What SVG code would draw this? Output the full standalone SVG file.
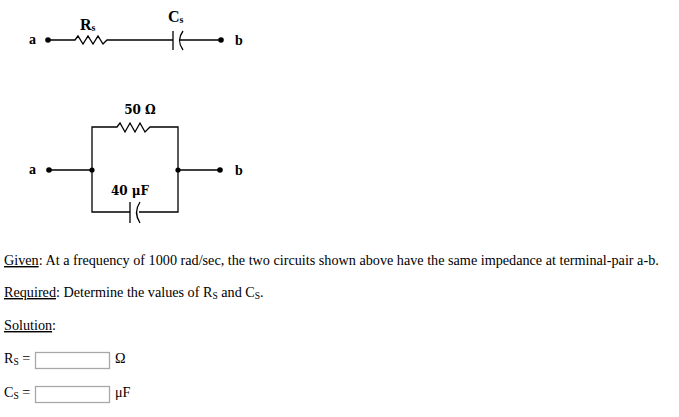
<svg xmlns="http://www.w3.org/2000/svg" width="679" height="417" viewBox="0 0 679 417">
<style>
.w{fill:none;stroke:#000;stroke-width:1.3;stroke-linejoin:miter}
.lbl{font-family:"Liberation Serif",serif;font-weight:bold;fill:#000}
.val{font-family:"DejaVu Serif",serif;font-weight:bold;font-size:12px;fill:#000}
.t{font-family:"Liberation Serif",serif;font-size:14.2px;fill:#000}
.u{text-decoration:underline}
.box{fill:#fff;stroke:#a8a8a8;stroke-width:1.3}
</style>
<rect width="679" height="417" fill="#fff"/>
<g id="connectors">
<path class="w" d="M48,40 H75 L78,36 L83,44 L88,36 L93,44 L98,36 L103,44 L107,40 H173"/>
<path class="w" d="M173,31 V50"/>
<path class="w" d="M183,31 Q176,40.5 183,50"/>
<path class="w" d="M179,40 H221"/>
<path class="w" d="M49,170 H92 M178,170 H220"/>
<path class="w" d="M92,170 V127 H117 L120,123 L125,132 L130,123 L135,132 L140,123 L145,132 L150,127 H178 V212 H139 M130,212 H92 V170"/>
<path class="w" d="M130,202 V223"/>
<path class="w" d="M140,202 Q133,212.5 140,223"/>
</g>
<g id="top-circuit">
<circle cx="48" cy="40" r="2.8"/>
<circle cx="221" cy="40" r="2.8"/>
<text class="lbl" x="29" y="44" font-size="14">a</text>
<text class="lbl" x="235" y="45" font-size="14">b</text>
<text class="lbl" x="80" y="30" font-size="16">R<tspan font-size="10" dy="1">s</tspan></text>
<text class="lbl" x="168" y="22" font-size="16">C<tspan font-size="10" dy="1">s</tspan></text>
</g>
<g id="bottom-circuit">
<circle cx="49" cy="170" r="2.8"/>
<circle cx="92" cy="170" r="2.6"/>
<circle cx="178" cy="170" r="2.6"/>
<circle cx="220" cy="170" r="2.8"/>
<text class="lbl" x="29" y="174" font-size="14">a</text>
<text class="lbl" x="235" y="175" font-size="14">b</text>
<text class="val" x="140" y="114" text-anchor="middle">50 Ω</text>
<text class="val" x="130" y="195" text-anchor="middle">40 μF</text>
</g>
<g id="text">
<text class="t" x="4" y="265"><tspan class="u">Given</tspan>: At a frequency of 1000 rad/sec, the two circuits shown above have the same impedance at terminal-pair a-b.</text>
<text class="t" x="4" y="297"><tspan class="u">Required</tspan>: Determine the values of R<tspan font-size="9.5" dy="2">S</tspan><tspan dy="-2"> and C</tspan><tspan font-size="9.5" dy="2">S</tspan><tspan dy="-2">.</tspan></text>
<text class="t" x="4" y="330"><tspan class="u">Solution</tspan>:</text>
<text class="t" x="4" y="363">R<tspan font-size="9.5" dy="2">S</tspan><tspan dy="-2"> =</tspan></text>
<rect class="box" x="35.5" y="352.5" width="74" height="16"/>
<text class="t" x="115" y="363">Ω</text>
<text class="t" x="4" y="397">C<tspan font-size="9.5" dy="2">S</tspan><tspan dy="-2"> =</tspan></text>
<rect class="box" x="35.5" y="386.5" width="74" height="16"/>
<text class="t" x="115" y="397">μF</text>
</g>
</svg>
